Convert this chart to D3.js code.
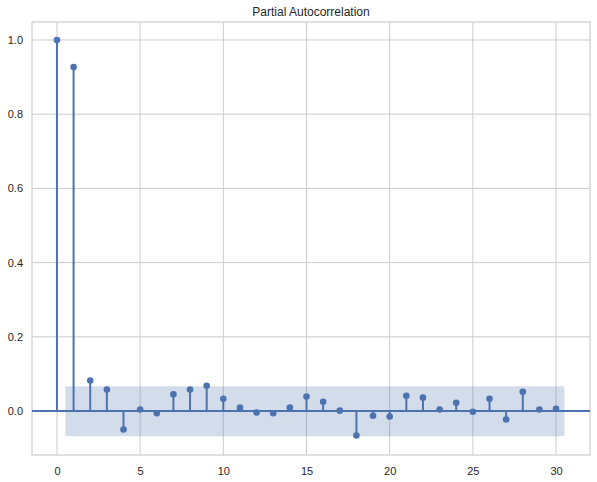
<!DOCTYPE html><html><head><script src="https://cdn.jsdelivr.net/npm/d3@7"></script>
<style>body{margin:0;background:#fff}text{font-family:"Liberation Sans",Arial,sans-serif}</style></head><body>
<svg id="c" width="597" height="482"></svg>
<script>
const lags=d3.range(0,31);
const pacf=[1.0,0.927,0.082,0.058,-0.050,0.004,-0.006,0.045,0.058,0.068,0.033,0.009,-0.004,-0.006,0.009,0.039,0.025,0.001,-0.066,-0.013,-0.015,0.041,0.036,0.004,0.022,-0.002,0.033,-0.023,0.052,0.004,0.006];
const confHi=0.0665, confLo=-0.068;
const xTicks=[0,5,10,15,20,25,30];
const yTicks=[0.0,0.2,0.4,0.6,0.8,1.0];
const title="Partial Autocorrelation";
const L=32,R=590,T=22,B=455,col="#4c72b0";
const svg=d3.select("#c");
const x=d3.scaleLinear().domain([-1.5,32.04]).range([L,R]);
const y=d3.scaleLinear().domain([-0.1186,1.0485]).range([B,T]);
const g=svg.append("g");
xTicks.forEach(t=>g.append("line").attr("x1",x(t)).attr("x2",x(t)).attr("y1",T).attr("y2",B).attr("stroke","#cccccc"));
yTicks.forEach(t=>g.append("line").attr("x1",L).attr("x2",R).attr("y1",y(t)).attr("y2",y(t)).attr("stroke","#cccccc"));
g.append("rect").attr("x",L).attr("y",T).attr("width",R-L).attr("height",B-T).attr("fill","none").attr("stroke","#cccccc").attr("stroke-width",1.2);
g.append("rect").attr("x",x(0.5)).attr("width",x(30.5)-x(0.5)).attr("y",y(confHi)).attr("height",y(confLo)-y(confHi)).attr("fill",col).attr("fill-opacity",0.25);
g.append("line").attr("x1",L).attr("x2",R).attr("y1",y(0)).attr("y2",y(0)).attr("stroke",col).attr("stroke-width",2);
lags.forEach((l,i)=>{
 g.append("line").attr("x1",x(l)).attr("x2",x(l)).attr("y1",y(0)).attr("y2",y(pacf[i])).attr("stroke",col).attr("stroke-width",2);
 g.append("circle").attr("cx",x(l)).attr("cy",y(pacf[i])).attr("r",3.3).attr("fill",col);
});
const xa=svg.append("g").attr("transform",`translate(0,${B})`).call(d3.axisBottom(x).tickValues(xTicks).tickSize(0).tickPadding(12).tickFormat(d3.format("d")));
const ya=svg.append("g").attr("transform",`translate(${L},0)`).call(d3.axisLeft(y).tickValues(yTicks).tickSize(0).tickPadding(9).tickFormat(d3.format(".1f")));
[xa,ya].forEach(a=>{a.select(".domain").remove();a.selectAll("text").attr("font-size",11).attr("fill","#262626").attr("font-family","Liberation Sans, Arial, sans-serif");});
svg.append("text").attr("x",(L+R)/2).attr("y",16).attr("text-anchor","middle").attr("font-size",12).attr("fill","#262626").text(title);
</script></body></html>
